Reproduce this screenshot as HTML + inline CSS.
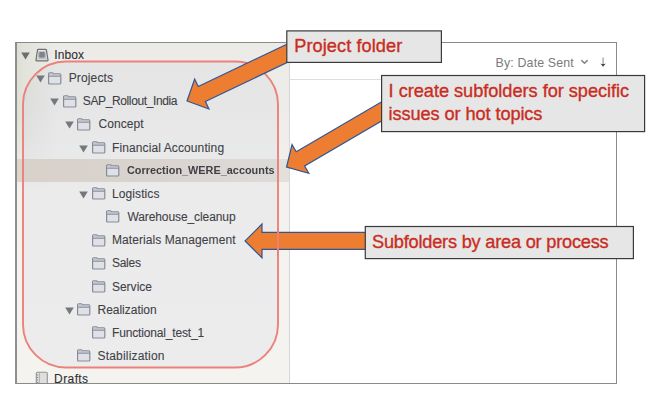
<!DOCTYPE html>
<html><head><meta charset="utf-8">
<style>
html,body{margin:0;padding:0;}
body{width:658px;height:415px;background:#fff;position:relative;overflow:hidden;font-family:"Liberation Sans",sans-serif;}
.t{position:absolute;white-space:nowrap;line-height:20.0px;color:#303030;font-size:12.0px;-webkit-text-stroke:0.1px #303030}
.c{position:absolute;white-space:nowrap;line-height:22px;color:#C92D22;font-size:18.2px;-webkit-text-stroke:0.35px #C92D22}
#win{position:absolute;left:15px;top:42px;width:602px;height:342px;box-sizing:border-box;border:1px solid #8a8a8a;border-left:2px solid #8e8e8e;background:#fff;overflow:hidden}
#side{position:absolute;left:17px;top:43px;width:272px;height:340px;overflow:hidden;background:linear-gradient(to bottom,#ECEBE8 0px,#EDECE9 60px,#F3F2EE 150px,#F4F3F0 340px)}
</style></head><body>
<div id="win"></div>
<div id="side">
<div style="position:absolute;left:0;top:0;width:40px;height:150px;background:linear-gradient(to right,rgba(215,218,205,0.7) 0px,rgba(215,218,205,0.5) 6px,rgba(215,218,205,0) 40px);-webkit-mask-image:linear-gradient(to bottom,#000 0px,#000 70px,transparent 150px);mask-image:linear-gradient(to bottom,#000 0px,#000 70px,transparent 150px)"></div>
<div style="position:absolute;left:0;top:116px;width:272px;height:23px;background:linear-gradient(to right,#DDD5C9 0px,#DED6CB 120px,#E3DFDA 262px)"></div>
<div style="position:absolute;left:-17px;top:-43px;width:658px;height:415px">
<div class="t" style="left:54.20px;top:45.04px;letter-spacing:0.125px;font-weight:normal">Inbox</div>
<svg width="16" height="16" viewBox="0 0 16 16" style="position:absolute;left:33.50px;top:47.60px"><path d="M4.2,1.4 H11.6 Q12.3,1.4 12.4,2.1 L14,12 Q14.1,12.8 13.3,12.8 H2.7 Q1.9,12.8 2,12 L3.5,2.1 Q3.6,1.4 4.2,1.4 Z" fill="#E9E9E7" stroke="#6E6E6E" stroke-width="1.2"/><path d="M4.3,3.2 H11.5 L12.2,9.6 L10.6,10.4 H5.4 L3.8,9.6 Z" fill="#B4B8BE"/><path d="M5.6,4 H10.4 L10.9,8.4 L9.6,9.4 H6.4 L5.1,8.4 Z" fill="#7D838F"/><path d="M2.9,10.9 H13.1" stroke="#A8A8A8" stroke-width="0.7"/></svg>
<svg width="9" height="8" viewBox="0 0 9 8" style="position:absolute;left:21.40px;top:51.90px"><path d="M0.2,0.5 H8.8 L4.5,7.6 Z" fill="#6E6E6E"/></svg>
<div class="t" style="left:68.70px;top:68.19px;letter-spacing:0.143px;font-weight:normal">Projects</div>
<svg width="15" height="14" viewBox="0 0 15 14" style="position:absolute;left:47.40px;top:70.55px"><path d="M1.6,12 V3 Q1.6,1.9 2.6,1.9 H5.6 L6.5,2.9 H12.8 Q13.8,2.9 13.8,3.9 V12 Q13.8,13 12.8,13 H2.6 Q1.6,13 1.6,12 Z" fill="#E6E6E9" stroke="#80858F" stroke-width="1.2"/><path d="M2.2,2.6 H5.4 L6.3,3.5 H13.2 V4.8 H2.2 Z" fill="#C6C8CD"/><path d="M1.6,5.2 H13.8" stroke="#80858F" stroke-width="1.05" fill="none"/></svg>
<svg width="9" height="8" viewBox="0 0 9 8" style="position:absolute;left:35.90px;top:75.05px"><path d="M0.2,0.5 H8.8 L4.5,7.6 Z" fill="#6E6E6E"/></svg>
<div class="t" style="left:82.80px;top:91.34px;letter-spacing:-0.375px;font-weight:normal">SAP_Rollout_India</div>
<svg width="15" height="14" viewBox="0 0 15 14" style="position:absolute;left:61.90px;top:93.70px"><path d="M1.6,12 V3 Q1.6,1.9 2.6,1.9 H5.6 L6.5,2.9 H12.8 Q13.8,2.9 13.8,3.9 V12 Q13.8,13 12.8,13 H2.6 Q1.6,13 1.6,12 Z" fill="#E6E6E9" stroke="#80858F" stroke-width="1.2"/><path d="M2.2,2.6 H5.4 L6.3,3.5 H13.2 V4.8 H2.2 Z" fill="#C6C8CD"/><path d="M1.6,5.2 H13.8" stroke="#80858F" stroke-width="1.05" fill="none"/></svg>
<svg width="9" height="8" viewBox="0 0 9 8" style="position:absolute;left:50.40px;top:98.20px"><path d="M0.2,0.5 H8.8 L4.5,7.6 Z" fill="#6E6E6E"/></svg>
<div class="t" style="left:98.40px;top:114.49px;letter-spacing:0.083px;font-weight:normal">Concept</div>
<svg width="15" height="14" viewBox="0 0 15 14" style="position:absolute;left:76.40px;top:116.85px"><path d="M1.6,12 V3 Q1.6,1.9 2.6,1.9 H5.6 L6.5,2.9 H12.8 Q13.8,2.9 13.8,3.9 V12 Q13.8,13 12.8,13 H2.6 Q1.6,13 1.6,12 Z" fill="#E6E6E9" stroke="#80858F" stroke-width="1.2"/><path d="M2.2,2.6 H5.4 L6.3,3.5 H13.2 V4.8 H2.2 Z" fill="#C6C8CD"/><path d="M1.6,5.2 H13.8" stroke="#80858F" stroke-width="1.05" fill="none"/></svg>
<svg width="9" height="8" viewBox="0 0 9 8" style="position:absolute;left:64.90px;top:121.35px"><path d="M0.2,0.5 H8.8 L4.5,7.6 Z" fill="#6E6E6E"/></svg>
<div class="t" style="left:112.00px;top:137.64px;letter-spacing:0.105px;font-weight:normal">Financial Accounting</div>
<svg width="15" height="14" viewBox="0 0 15 14" style="position:absolute;left:90.90px;top:140.00px"><path d="M1.6,12 V3 Q1.6,1.9 2.6,1.9 H5.6 L6.5,2.9 H12.8 Q13.8,2.9 13.8,3.9 V12 Q13.8,13 12.8,13 H2.6 Q1.6,13 1.6,12 Z" fill="#E6E6E9" stroke="#80858F" stroke-width="1.2"/><path d="M2.2,2.6 H5.4 L6.3,3.5 H13.2 V4.8 H2.2 Z" fill="#C6C8CD"/><path d="M1.6,5.2 H13.8" stroke="#80858F" stroke-width="1.05" fill="none"/></svg>
<svg width="9" height="8" viewBox="0 0 9 8" style="position:absolute;left:79.40px;top:144.50px"><path d="M0.2,0.5 H8.8 L4.5,7.6 Z" fill="#6E6E6E"/></svg>
<div class="t" style="left:127.40px;top:159.99px;letter-spacing:0.000px;font-weight:bold;-webkit-text-stroke:0;font-size:11.8px;transform:scaleX(0.9225);transform-origin:0 0">Correction_WERE_accounts</div>
<svg width="15" height="14" viewBox="0 0 15 14" style="position:absolute;left:105.40px;top:163.15px"><path d="M1.6,12 V3 Q1.6,1.9 2.6,1.9 H5.6 L6.5,2.9 H12.8 Q13.8,2.9 13.8,3.9 V12 Q13.8,13 12.8,13 H2.6 Q1.6,13 1.6,12 Z" fill="#E6E6E9" stroke="#80858F" stroke-width="1.2"/><path d="M2.2,2.6 H5.4 L6.3,3.5 H13.2 V4.8 H2.2 Z" fill="#C6C8CD"/><path d="M1.6,5.2 H13.8" stroke="#80858F" stroke-width="1.05" fill="none"/></svg>
<div class="t" style="left:111.90px;top:183.94px;letter-spacing:0.112px;font-weight:normal">Logistics</div>
<svg width="15" height="14" viewBox="0 0 15 14" style="position:absolute;left:90.90px;top:186.30px"><path d="M1.6,12 V3 Q1.6,1.9 2.6,1.9 H5.6 L6.5,2.9 H12.8 Q13.8,2.9 13.8,3.9 V12 Q13.8,13 12.8,13 H2.6 Q1.6,13 1.6,12 Z" fill="#E6E6E9" stroke="#80858F" stroke-width="1.2"/><path d="M2.2,2.6 H5.4 L6.3,3.5 H13.2 V4.8 H2.2 Z" fill="#C6C8CD"/><path d="M1.6,5.2 H13.8" stroke="#80858F" stroke-width="1.05" fill="none"/></svg>
<svg width="9" height="8" viewBox="0 0 9 8" style="position:absolute;left:79.40px;top:190.80px"><path d="M0.2,0.5 H8.8 L4.5,7.6 Z" fill="#6E6E6E"/></svg>
<div class="t" style="left:127.40px;top:207.09px;letter-spacing:-0.088px;font-weight:normal">Warehouse_cleanup</div>
<svg width="15" height="14" viewBox="0 0 15 14" style="position:absolute;left:105.40px;top:209.45px"><path d="M1.6,12 V3 Q1.6,1.9 2.6,1.9 H5.6 L6.5,2.9 H12.8 Q13.8,2.9 13.8,3.9 V12 Q13.8,13 12.8,13 H2.6 Q1.6,13 1.6,12 Z" fill="#E6E6E9" stroke="#80858F" stroke-width="1.2"/><path d="M2.2,2.6 H5.4 L6.3,3.5 H13.2 V4.8 H2.2 Z" fill="#C6C8CD"/><path d="M1.6,5.2 H13.8" stroke="#80858F" stroke-width="1.05" fill="none"/></svg>
<div class="t" style="left:111.90px;top:230.24px;letter-spacing:0.084px;font-weight:normal">Materials Management</div>
<svg width="15" height="14" viewBox="0 0 15 14" style="position:absolute;left:90.90px;top:232.60px"><path d="M1.6,12 V3 Q1.6,1.9 2.6,1.9 H5.6 L6.5,2.9 H12.8 Q13.8,2.9 13.8,3.9 V12 Q13.8,13 12.8,13 H2.6 Q1.6,13 1.6,12 Z" fill="#E6E6E9" stroke="#80858F" stroke-width="1.2"/><path d="M2.2,2.6 H5.4 L6.3,3.5 H13.2 V4.8 H2.2 Z" fill="#C6C8CD"/><path d="M1.6,5.2 H13.8" stroke="#80858F" stroke-width="1.05" fill="none"/></svg>
<div class="t" style="left:111.90px;top:253.39px;letter-spacing:-0.225px;font-weight:normal">Sales</div>
<svg width="15" height="14" viewBox="0 0 15 14" style="position:absolute;left:90.90px;top:255.75px"><path d="M1.6,12 V3 Q1.6,1.9 2.6,1.9 H5.6 L6.5,2.9 H12.8 Q13.8,2.9 13.8,3.9 V12 Q13.8,13 12.8,13 H2.6 Q1.6,13 1.6,12 Z" fill="#E6E6E9" stroke="#80858F" stroke-width="1.2"/><path d="M2.2,2.6 H5.4 L6.3,3.5 H13.2 V4.8 H2.2 Z" fill="#C6C8CD"/><path d="M1.6,5.2 H13.8" stroke="#80858F" stroke-width="1.05" fill="none"/></svg>
<div class="t" style="left:111.90px;top:276.54px;letter-spacing:0.017px;font-weight:normal">Service</div>
<svg width="15" height="14" viewBox="0 0 15 14" style="position:absolute;left:90.90px;top:278.90px"><path d="M1.6,12 V3 Q1.6,1.9 2.6,1.9 H5.6 L6.5,2.9 H12.8 Q13.8,2.9 13.8,3.9 V12 Q13.8,13 12.8,13 H2.6 Q1.6,13 1.6,12 Z" fill="#E6E6E9" stroke="#80858F" stroke-width="1.2"/><path d="M2.2,2.6 H5.4 L6.3,3.5 H13.2 V4.8 H2.2 Z" fill="#C6C8CD"/><path d="M1.6,5.2 H13.8" stroke="#80858F" stroke-width="1.05" fill="none"/></svg>
<div class="t" style="left:97.50px;top:299.69px;letter-spacing:-0.020px;font-weight:normal">Realization</div>
<svg width="15" height="14" viewBox="0 0 15 14" style="position:absolute;left:76.40px;top:302.05px"><path d="M1.6,12 V3 Q1.6,1.9 2.6,1.9 H5.6 L6.5,2.9 H12.8 Q13.8,2.9 13.8,3.9 V12 Q13.8,13 12.8,13 H2.6 Q1.6,13 1.6,12 Z" fill="#E6E6E9" stroke="#80858F" stroke-width="1.2"/><path d="M2.2,2.6 H5.4 L6.3,3.5 H13.2 V4.8 H2.2 Z" fill="#C6C8CD"/><path d="M1.6,5.2 H13.8" stroke="#80858F" stroke-width="1.05" fill="none"/></svg>
<svg width="9" height="8" viewBox="0 0 9 8" style="position:absolute;left:64.90px;top:306.55px"><path d="M0.2,0.5 H8.8 L4.5,7.6 Z" fill="#6E6E6E"/></svg>
<div class="t" style="left:112.00px;top:322.84px;letter-spacing:-0.162px;font-weight:normal">Functional_test_1</div>
<svg width="15" height="14" viewBox="0 0 15 14" style="position:absolute;left:90.90px;top:325.20px"><path d="M1.6,12 V3 Q1.6,1.9 2.6,1.9 H5.6 L6.5,2.9 H12.8 Q13.8,2.9 13.8,3.9 V12 Q13.8,13 12.8,13 H2.6 Q1.6,13 1.6,12 Z" fill="#E6E6E9" stroke="#80858F" stroke-width="1.2"/><path d="M2.2,2.6 H5.4 L6.3,3.5 H13.2 V4.8 H2.2 Z" fill="#C6C8CD"/><path d="M1.6,5.2 H13.8" stroke="#80858F" stroke-width="1.05" fill="none"/></svg>
<div class="t" style="left:97.50px;top:345.99px;letter-spacing:0.192px;font-weight:normal">Stabilization</div>
<svg width="15" height="14" viewBox="0 0 15 14" style="position:absolute;left:76.40px;top:348.35px"><path d="M1.6,12 V3 Q1.6,1.9 2.6,1.9 H5.6 L6.5,2.9 H12.8 Q13.8,2.9 13.8,3.9 V12 Q13.8,13 12.8,13 H2.6 Q1.6,13 1.6,12 Z" fill="#E6E6E9" stroke="#80858F" stroke-width="1.2"/><path d="M2.2,2.6 H5.4 L6.3,3.5 H13.2 V4.8 H2.2 Z" fill="#C6C8CD"/><path d="M1.6,5.2 H13.8" stroke="#80858F" stroke-width="1.05" fill="none"/></svg>
<div class="t" style="left:54.10px;top:369.14px;letter-spacing:0.400px;font-weight:normal">Drafts</div>
<svg width="14" height="16" viewBox="0 0 14 16" style="position:absolute;left:34.60px;top:370.50px"><rect x="1.3" y="1.3" width="11" height="14" rx="1.2" fill="#DEDEDE" stroke="#959595" stroke-width="1.1"/><path d="M4.4,1.5 V15" stroke="#B0B0B0" stroke-width="1"/><path d="M1.6,4 H3.2 M1.6,6.5 H3.2 M1.6,9 H3.2 M1.6,11.5 H3.2 M1.6,14 H3.2" stroke="#8A8A8A" stroke-width="0.9"/></svg>
</div>
</div>
<div style="position:absolute;left:289px;top:43px;width:1px;height:340px;background:#D6D6D6"></div>
<div style="position:absolute;left:290px;top:79px;width:326px;height:1px;background:#DEDEDE"></div>
<div class="t" style="left:495.6px;top:52.70px;font-size:12.4px;letter-spacing:0.142px;color:#7b7b7b;-webkit-text-stroke:0">By: Date Sent</div>
<svg width="40" height="20" viewBox="576 54 40 20" style="position:absolute;left:576px;top:54px"><path d="M581.8,60.6 L584.5,63.3 L587.2,60.6" fill="none" stroke="#858585" stroke-width="1.5" stroke-linecap="round" stroke-linejoin="round"/><path d="M603.1,57.6 V64.2" stroke="#9a9a9a" stroke-width="1.2"/><path d="M600.4,63.6 Q603.1,64.6 605.8,63.6 L603.1,66.8 Z" fill="#444"/></svg>
<svg width="658" height="415" style="position:absolute;left:0;top:0">
<rect x="23" y="61.5" width="255" height="306" rx="43" ry="43" fill="rgba(182,186,220,0.12)" stroke="#EC817A" stroke-width="1.9"/>
<polygon points="245.10,240.90 262.00,224.00 262.00,232.35 370.10,232.35 370.10,249.45 262.00,249.45 262.00,257.80" fill="#ED7D31" stroke="#2F5597" stroke-width="1.2"/>
<line x1="278" y1="228" x2="278" y2="256" stroke="#EC7F78" stroke-width="2"/>
<polygon points="187.00,101.00 194.67,78.96 198.24,86.46 296.29,39.76 303.43,54.75 205.38,101.44 208.94,108.94" fill="#ED7D31" stroke="#2F5597" stroke-width="1.2"/>
<polygon points="286.60,167.00 292.03,144.59 296.22,151.76 385.98,99.23 394.36,113.56 304.60,166.08 308.79,173.25" fill="#ED7D31" stroke="#2F5597" stroke-width="1.2"/>
<rect x="286.8" y="30.9" width="154.6" height="31.5" fill="#E6E6E6" stroke="#3a3a3a" stroke-width="1.2"/>
<rect x="381.6" y="75.5" width="263" height="56.1" fill="#E6E6E6" stroke="#3a3a3a" stroke-width="1.2"/>
<rect x="365.3" y="226.5" width="268.1" height="32.1" fill="#E6E6E6" stroke="#3a3a3a" stroke-width="1.2"/>
</svg>
<div class="c" style="left:294.20px;top:35.49px;letter-spacing:0.069px">Project folder</div>
<div class="c" style="left:388.60px;top:80.29px;letter-spacing:-0.032px">I create subfolders for specific</div>
<div class="c" style="left:388.60px;top:103.19px;letter-spacing:-0.095px">issues or hot topics</div>
<div class="c" style="left:372.00px;top:231.39px;letter-spacing:-0.214px">Subfolders by area or process</div>
</body></html>
